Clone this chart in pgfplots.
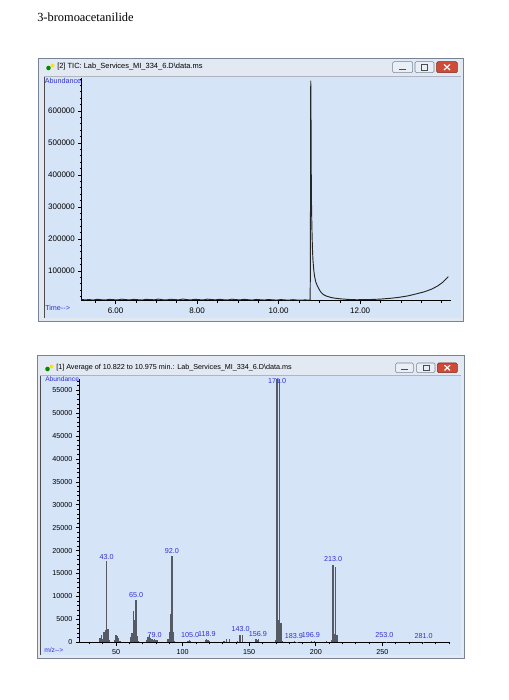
\documentclass[border=0pt]{standalone}
\usepackage{fontspec}
\usepackage{pgfplots}
\pgfplotsset{compat=1.18}
\newfontfamily\ui{Liberation Sans}
\newfontfamily\titlefont{Liberation Serif}
\definecolor{plotbg}{RGB}{214,228,248}
\definecolor{winbg}{RGB}{226,233,243}
\definecolor{winborder}{RGB}{120,132,150}
\definecolor{lblblue}{RGB}{50,50,210}
\definecolor{closered}{RGB}{205,75,55}
\definecolor{btnface}{RGB}{234,239,247}
\definecolor{barcol}{RGB}{85,90,100}

\pgfplotstableread{
t y
5.17 11000
5.25 9500
5.35 10600
5.45 9000
5.55 11500
5.65 10000
5.75 9200
5.85 11200
5.95 10200
6.05 9400
6.15 11800
6.25 10300
6.35 9600
6.45 11200
6.55 10000
6.65 9100
6.75 11300
6.85 10500
6.95 9800
7.05 12000
7.15 10100
7.25 9300
7.35 11600
7.45 10400
7.55 9700
7.65 12200
7.75 10300
7.85 9500
7.95 11400
8.05 10200
8.15 9300
8.25 11900
8.35 10600
8.45 9600
8.55 11500
8.65 10000
8.75 9200
8.85 11700
8.95 10400
9.05 9500
9.15 11300
9.25 10100
9.35 9000
9.45 11000
9.55 9900
9.65 9100
9.75 10800
9.85 9700
9.95 8900
10.05 10500
10.15 9400
10.25 8800
10.35 10200
10.45 9100
10.55 8600
10.65 9600
10.72 8800
10.770 9200
10.776 60000
10.782 350000
10.787 695000
10.792 660000
10.798 450000
10.805 320000
10.815 240000
10.828 175000
10.84 137000
10.86 105000
10.88 84000
10.91 66000
10.95 53000
11.00 41000
11.04 33000
11.10 26000
11.17 21500
11.27 17500
11.37 15000
11.50 13000
11.70 11000
11.90 10000
12.10 10200
12.30 10900
12.50 12000
12.76 14700
12.95 17500
13.17 22000
13.35 27500
13.58 35000
13.75 43000
13.90 53000
14.03 65000
14.16 82000
}\tictable

\pgfplotstableread{
mz ab
38 900
39 1500
40 800
41 2300
42 2600
43 17700
44 2900
45 600
49 500
50 1600
51 1400
52 900
53 300
61 1100
62 2000
63 6800
64 4800
65 9200
66 1300
67 300
73 400
74 1100
75 1500
76 900
77 700
78 500
79 700
80 500
81 400
89 700
90 2200
91 6200
92 18800
93 2300
94 300
104 300
105 400
106 200
117 400
118 700
119 500
120 200
131 300
133 800
135 800
141 300
143 1700
145 1700
155 700
156 400
157 700
170 500
171 61000
172 4900
173 59000
174 4100
175 300
184 200
186 150
197 350
199 300
208 250
212 400
213 16900
214 1800
215 16500
216 1700
253 150
281 120
}\mstable

\pgfplotstableread{
mz ab lab
43 18000 43.0
65 9600 65.0
79 1050 79.0
92 19300 92.0
105.6 900 105.0
118.3 1300 118.9
143.6 2300 143.0
156.5 1300 156.9
171 56300 171.0
183.6 680 183.9
196.4 1050 196.9
251.5 900 253.0
281 680 281.0
213 17450 213.0
}\labtable

\begin{document}
\begin{tikzpicture}[x=0.75pt,y=0.75pt]
\useasboundingbox (0,0) rectangle (508,700);
\fill[white] (0,0) rectangle (508,700);
\node[anchor=west, inner sep=0, font=\titlefont\fontsize{9.3}{10}\selectfont] at (37,683) {3-bromoacetanilide};

% ---------- top window ----------
\filldraw[fill=winbg, draw=winborder, line width=0.5pt] (38,379) rectangle (463,642);
\fill[plotbg] (44,382) rectangle (461,624);
\draw[black!70, line width=0.9pt] (44.5,382) -- (44.5,624);
\draw[winborder!60, line width=0.4pt] (44,624) -- (461,624);
\fill[green!55!black] (48.5,632) circle (2.3);
\fill[yellow!85!orange] (52.5,634.5) circle (2.0);
\node[anchor=west, inner sep=0, font=\ui\fontsize{5.6}{6}\selectfont] at (57,633) {[2] TIC: Lab\_Services\_MI\_334\_6.D\textbackslash data.ms};
\filldraw[fill=btnface, draw=winborder, rounded corners=1pt, line width=0.4pt] (392.7,627.3) rectangle (412.7,638.3);
\draw[black!70, line width=0.7pt] (399,630.5) -- (406,630.5);
\filldraw[fill=btnface, draw=winborder, rounded corners=1pt, line width=0.4pt] (415,627.3) rectangle (434,638.3);
\draw[black!70, line width=0.5pt] (421.5,630) rectangle (427.5,635.5);
\filldraw[fill=closered, draw=closered!60!black, rounded corners=1pt, line width=0.4pt] (436.7,627.3) rectangle (457.3,638.3);
\draw[white, line width=0.9pt] (444,630) -- (450,635.6) (444,635.6) -- (450,630);
\node[anchor=west, inner sep=0, text=lblblue, font=\ui\fontsize{5.4}{6}\selectfont] at (44.5,619.5) {Abundance};
\node[anchor=west, inner sep=0, text=lblblue, font=\ui\fontsize{5.4}{6}\selectfont] at (45,392) {Time-{}->};

\begin{axis}[
  at={(61.275pt,299.475pt)}, anchor=south west, scale only axis,
  width=276.75pt, height=166.8pt,
  xmin=5.17, xmax=14.22, ymin=7000, ymax=702000,
  axis x line*=bottom, axis y line*=left,
  axis line style={black, line width=0.5pt, -},
  tick align=outside, major tick length=2.6pt, minor tick length=1.5pt,
  tick style={black, line width=0.4pt},
  xtick={6,8,10,12}, minor xtick={5.5,6,...,14},
  ytick={100000,200000,...,600000}, minor ytick={20000,40000,...,700000},
  scaled y ticks=false, scaled x ticks=false,
  xticklabel style={/pgf/number format/.cd, fixed, fixed zerofill, precision=2},
  yticklabel style={/pgf/number format/.cd, fixed, precision=0, 1000 sep={}},
  ticklabel style={font=\ui\fontsize{6}{7}\selectfont},
  /pgf/number format/assume math mode=true,
  xticklabel shift=-1pt, yticklabel shift=-1pt,
]
\addplot[black!85, line width=0.7pt] table[x=t, y=y] {\tictable};
\end{axis}

% ---------- bottom window ----------
\filldraw[fill=winbg, draw=winborder, line width=0.5pt] (37,42) rectangle (464,345);
\fill[plotbg] (40,45) rectangle (461,324.5);
\draw[black!70, line width=0.9pt] (40.5,45) -- (40.5,324.5);
\draw[winborder!60, line width=0.4pt] (40,324.5) -- (461,324.5);
\fill[green!55!black] (47.5,331) circle (2.3);
\fill[yellow!85!orange] (51.5,333.5) circle (2.0);
\node[anchor=west, inner sep=0, font=\ui\fontsize{5.4}{6}\selectfont] at (56,332) {[1] Average of 10.822 to 10.975 min.: Lab\_Services\_MI\_334\_6.D\textbackslash data.ms};
\filldraw[fill=btnface, draw=winborder, rounded corners=1pt, line width=0.4pt] (395.7,327.3) rectangle (413.3,337);
\draw[black!70, line width=0.7pt] (401,330.3) -- (408,330.3);
\filldraw[fill=btnface, draw=winborder, rounded corners=1pt, line width=0.4pt] (416.7,327.3) rectangle (435,337);
\draw[black!70, line width=0.5pt] (423,329.5) rectangle (429,334.7);
\filldraw[fill=closered, draw=closered!60!black, rounded corners=1pt, line width=0.4pt] (437.3,327.3) rectangle (457.3,337);
\draw[white, line width=0.9pt] (444.5,329.6) -- (450,334.8) (444.5,334.8) -- (450,329.6);
\node[anchor=west, inner sep=0, text=lblblue, font=\ui\fontsize{5}{6}\selectfont] at (45,320.5) {Abundance};
\node[anchor=west, inner sep=0, text=lblblue, font=\ui\fontsize{5}{6}\selectfont] at (44,50) {m/z-{}->};

\begin{axis}[
  at={(59.475pt,43.275pt)}, anchor=south west, scale only axis,
  width=277.5pt, height=197.25pt,
  xmin=22.4, xmax=300.3, ymin=0, ymax=57350,
  axis x line*=bottom, axis y line*=left,
  axis line style={black, line width=0.5pt, -},
  tick align=outside, major tick length=2.6pt, minor tick length=1.5pt,
  tick style={black, line width=0.4pt},
  xtick={50,100,...,250}, minor xtick={30,40,...,300},
  ytick={0,5000,...,55000}, minor ytick={1000,2000,...,57000},
  scaled y ticks=false, scaled x ticks=false,
  xticklabel style={/pgf/number format/.cd, fixed, precision=0},
  yticklabel style={/pgf/number format/.cd, fixed, precision=0, 1000 sep={}},
  ticklabel style={font=\ui\fontsize{5.4}{6}\selectfont},
  /pgf/number format/assume math mode=true,
  xticklabel shift=-1pt, yticklabel shift=-1pt,
  clip mode=individual,
]
\addplot[ycomb, barcol, line width=1.0pt] table[x=mz, y=ab] {\mstable};
\addplot[draw=none, mark=none, point meta=explicit symbolic,
  nodes near coords={\pgfplotspointmeta},
  nodes near coords style={anchor=south, inner sep=0pt, text=lblblue, font=\ui\fontsize{5.4}{6}\selectfont}]
  table[x=mz, y=ab, meta=lab] {\labtable};
\end{axis}
\end{tikzpicture}
\end{document}
